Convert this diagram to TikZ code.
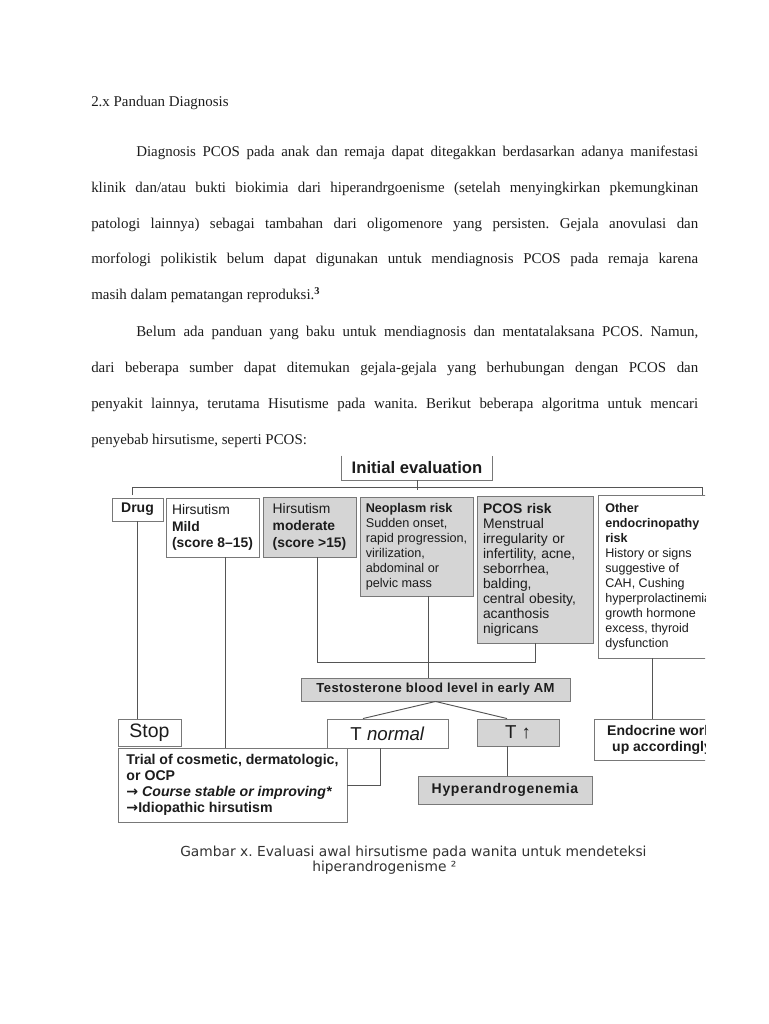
\documentclass[tikz,border=0pt]{standalone}
\usepackage{fontspec}
\setmainfont{Liberation Serif}
\setsansfont{Liberation Sans}
\newfontfamily\capfont{DejaVu Sans}
\usetikzlibrary{calc,positioning}
\definecolor{BoxGray}{RGB}{213,213,213}
\definecolor{EdgeGray}{RGB}{120,120,120}
\definecolor{WireGray}{RGB}{85,85,85}
\definecolor{InkBlack}{RGB}{28,28,28}
\definecolor{CapGray}{RGB}{50,50,50}
\tolerance=9999
\hyphenpenalty=10000
\newcommand{\rarr}{{\capfont\bfseries →}}
\begin{document}
\frenchspacing
\begin{tikzpicture}[x=0.75pt,y=-0.75pt,
    bodytext/.style={inner sep=0pt,anchor=base west,text width=455.25pt,
      align=justify,text=InkBlack,font=\fontsize{11.2}{27}\selectfont},
    captext/.style={inner sep=0pt,anchor=base west,text=CapGray,
      font=\capfont\fontsize{10.35}{12}\selectfont},
    tag/.style={inner sep=0pt,align=left,text=InkBlack,font=\sffamily},
    framed/.style={tag,draw=EdgeGray,line width=0.7pt,fill=white},
    shaded/.style={framed,fill=BoxGray},
    wire/.style={draw=WireGray,line width=0.7pt}]
  \useasboundingbox (0,0) rectangle (768,1024);

  % page text
  \node[bodytext] (heading) at (91,107) {2.x Panduan Diagnosis};
  \node[bodytext] (para1) at (91,156) {\hspace*{33.75pt}Diagnosis PCOS pada anak
    dan remaja dapat ditegakkan berdasarkan adanya manifestasi\linebreak
    klinik dan/atau bukti biokimia dari hiperandrgoenisme (setelah menyingkirkan
    pkemungkinan\linebreak
    patologi lainnya) sebagai tambahan dari oligomenore yang persisten. Gejala
    anovulasi dan\linebreak
    morfologi polikistik belum dapat digunakan untuk mendiagnosis PCOS pada
    remaja karena\linebreak
    masih dalam pematangan reproduksi.\textsuperscript{\textbf{3}}};
  \node[bodytext] (para2) at (91,336) {\hspace*{33.75pt}Belum ada panduan yang
    baku untuk mendiagnosis dan mentatalaksana PCOS. Namun,\linebreak
    dari beberapa sumber dapat ditemukan gejala-gejala yang berhubungan dengan
    PCOS dan\linebreak
    penyakit lainnya, terutama Hisutisme pada wanita. Berikut beberapa algoritma
    untuk mencari\linebreak
    penyebab hirsutisme, seperti PCOS:};

  % flowchart (cropped figure)
  \begin{scope}
    \clip (95,450) rectangle (705,835);
    \node[tag,minimum width=112.5pt,minimum height=18pt,
      font=\sffamily\bfseries\fontsize{12.5}{14}\selectfont]
      (init) at (417,468) {Initial evaluation};
    \draw[draw=EdgeGray,line width=0.7pt] (init.north west) -- (init.south west)
      -- (init.south east) -- (init.north east);

    \node[framed,minimum width=38.25pt,minimum height=17.25pt,
      font=\sffamily\bfseries\fontsize{10.5}{12}\selectfont]
      (drug) at (137.5,509.5) {Drug};
    \node[framed,minimum width=69.75pt,minimum height=44.25pt,
      font=\sffamily\fontsize{10.4}{12.5}\selectfont]
      (mild) at (212.5,527.5) {Hirsutism\\\textbf{Mild}\\\textbf{(score 8–15)}};
    \node[shaded,minimum width=69.75pt,minimum height=45pt,
      font=\sffamily\fontsize{10.4}{12.5}\selectfont]
      (moderate) at (309.5,527) {Hirsutism\\\textbf{moderate}\\\textbf{(score >15)}};
    \node[shaded,minimum width=84.75pt,minimum height=74.25pt,
      font=\sffamily\fontsize{9.5}{11.25}\selectfont]
      (neoplasm) at (416.5,546.5) {\textbf{Neoplasm risk}\\Sudden onset,\\
      rapid progression,\\virilization,\\abdominal or\\pelvic mass};
    \node[shaded,minimum width=87pt,minimum height=110.25pt,text width=78pt,
      font=\sffamily\fontsize{10.4}{11.25}\selectfont]
      (pcos) at (535,569.5) {\textbf{PCOS risk}\\Menstrual\\irregularity or\\
      infertility, acne,\\seborrhea,\\balding,\\central obesity,\\acanthosis\\nigricans};
    \node[framed,minimum width=93pt,minimum height=122.25pt,
      font=\sffamily\fontsize{9.4}{11.25}\selectfont]
      (other) at (660,576.5) {\textbf{Other}\\\textbf{endocrinopathy}\\\textbf{risk}\\
      History or signs\\suggestive of\\CAH, Cushing\\hyperprolactinemia,\\
      growth hormone\\excess, thyroid\\dysfunction};

    \node[shaded,minimum width=201.75pt,minimum height=17.25pt,
      font=\sffamily\bfseries\fontsize{9.8}{11}\selectfont\addfontfeature{LetterSpace=3}]
      (testo) at (435.5,689.5) {Testosterone blood level in early AM};
    \node[framed,minimum width=47.25pt,minimum height=20.25pt,
      font=\sffamily\fontsize{14.6}{16}\selectfont]
      (stop) at (149.5,732.5) {Stop};
    \node[framed,minimum width=90.75pt,minimum height=21.75pt,
      font=\sffamily\fontsize{14}{16}\selectfont]
      (tnorm) at (387.5,733.5) {T \textit{normal}};
    \node[shaded,minimum width=61.5pt,minimum height=20.25pt,
      font=\sffamily\fontsize{14}{16}\selectfont]
      (tup) at (518,732.5) {T ↑};
    \node[framed,minimum width=171.75pt,minimum height=55.5pt,
      font=\sffamily\bfseries\fontsize{10.6}{12}\selectfont]
      (trial) at (232.5,785) {Trial of cosmetic, dermatologic,\\or OCP\\
      \rarr\ \textit{Course stable or improving*}\\\rarr Idiopathic hirsutism};
    \node[shaded,minimum width=130.5pt,minimum height=21pt,
      font=\sffamily\bfseries\fontsize{10.5}{12}\selectfont\addfontfeature{LetterSpace=5}]
      (hyper) at (505,790) {Hyperandrogenemia};
    \node[framed,minimum width=102pt,minimum height=30.75pt,align=center,
      font=\sffamily\bfseries\fontsize{10.5}{12}\selectfont]
      (endo) at (662,739.5) {Endocrine work-\\up accordingly};

    % connectors
    \coordinate (busL) at (132,487);
    \coordinate (busR) at (702,487);
    \draw[wire] (init.south) -- ++(0,10);
    \draw[wire] ($(busL)+(0,8)$) -- (busL) -- (busR) -- ++(0,8);
    \draw[wire] (drug.south) -- (drug.south |- stop.north);
    \coordinate (mildout) at ($(mild.south)+(12.5,0)$);
    \draw[wire] (mildout) -- (mildout |- trial.north);
    \coordinate (modout) at ($(moderate.south)+(7.5,0)$);
    \draw[wire] (modout) -- ++(0,105) -| (pcos.south);
    \coordinate (neoout) at ($(neoplasm.south)+(11.5,0)$);
    \draw[wire] (neoout) -- (neoout |- testo.north);
    \draw[wire] (testo.south) -- ($(tnorm.north)+(-24.5,0)$);
    \draw[wire] (testo.south) -- ($(tup.north)+(-11,0)$);
    \draw[wire] ($(tnorm.south)+(-7.5,0)$) |- (trial.east);
    \coordinate (tupout) at ($(tup.south)+(-11,0)$);
    \draw[wire] (tupout) -- (tupout |- hyper.north);
    \coordinate (othout) at ($(other.south)+(-8,0)$);
    \draw[wire] (othout) -- (othout |- endo.north);
  \end{scope}

  % caption
  \node[captext] (cap1) at (180,856)
    {Gambar x. Evaluasi awal hirsutisme pada wanita untuk mendeteksi};
  \node[captext] (cap2) at (312,871) {hiperandrogenisme ²};
\end{tikzpicture}
\end{document}
